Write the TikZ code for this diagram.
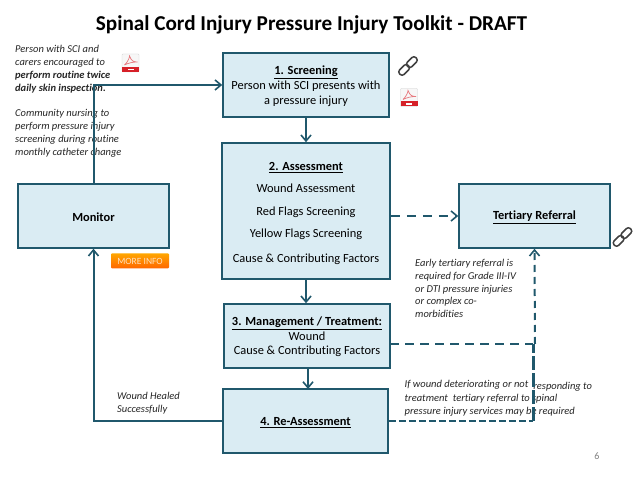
\documentclass[tikz,border=0pt]{standalone}
\usepackage{fontspec}
\setmainfont{Carlito}[Ligatures=NoCommon]
\usetikzlibrary{arrows.meta,calc}
\definecolor{boxfill}{RGB}{218,236,243}
\definecolor{teal1}{RGB}{32,88,108}
\definecolor{pdfred}{RGB}{214,32,40}
\tikzset{
  flowbox/.style={draw=teal1,fill=boxfill,line width=1.5pt,inner sep=0pt,align=center,font=\fontsize{12.4}{14.6}\selectfont},
  conn/.style={draw=teal1,line width=2pt,-{Straight Barb[length=6pt,width=10pt,line width=1.6pt]}},
  dashconn/.style={draw=teal1,line width=2pt,dash pattern=on 9pt off 6pt},
  note/.style={align=left,inner sep=0pt,anchor=north west,text=black!85,font=\fontsize{10.5}{12.8}\selectfont\itshape},
  pdficon/.pic={
    \fill[black!3,draw=black!18,line width=.4pt,rounded corners=.8pt] (-8.5,-9) rectangle (8.5,9);
    \fill[pdfred] (-8.5,4) rectangle (8.5,9);
    \draw[pdfred!60!white,line width=.7pt] (-6,2) .. controls (-1,-3) and (-1,-7) .. (-1,-7) .. controls (1,-2) and (3,-1) .. (7,-1) .. controls (2,-1) and (-2,0) .. (-6,2);
    \fill[white] (-3,5.8) rectangle (3,7.2);
  },
  linkicon/.pic={
    \begin{scope}[rotate=45,line width=1.5pt,draw=black!75]
      \draw[rounded corners=2.8pt] (-11.5,-3.2) rectangle (0.5,3.2);
      \draw[rounded corners=2.8pt] (-0.5,-3.2) rectangle (11.5,3.2);
    \end{scope}
  }
}
\begin{document}
\begin{tikzpicture}[x=1pt,y=-1pt]
\useasboundingbox (0,0) rectangle (638,478);
\fill[white] (0,0) rectangle (638,478);

\node[font=\fontsize{21.2}{24}\selectfont\bfseries,inner sep=0pt] (title) at (311.5,24.5) {Spinal Cord Injury Pressure Injury Toolkit - DRAFT};

\node[flowbox,minimum width=166pt,minimum height=64pt] (screen) at (306,85) {\rule{0pt}{11pt}\textbf{\underline{1. Screening}}\\Person with SCI presents with\\a pressure injury};
\node[flowbox,minimum width=168pt,minimum height=136pt,font=\fontsize{12.4}{22.3}\selectfont] (assess) at (306,211) {\rule{0pt}{13pt}\textbf{\underline{2. Assessment}}\\Wound Assessment\\Red Flags Screening\\Yellow Flags Screening\\[2.3pt]Cause \& Contributing Factors};
\node[flowbox,minimum width=151pt,minimum height=64pt,font=\fontsize{12.4}{14.6}\selectfont\bfseries] (monitor) at (93.5,216) {\rule{0pt}{11pt}Monitor};
\node[flowbox,minimum width=151pt,minimum height=64pt,font=\fontsize{12.4}{14.6}\selectfont\bfseries] (tertiary) at (534.5,216) {\rule{0pt}{11pt}\underline{Tertiary Referral}};
\node[flowbox,minimum width=166pt,minimum height=64pt] (manage) at (307,336) {\rule{0pt}{10.5pt}\textbf{\underline{3. Management / Treatment:}}\\Wound\\Cause \& Contributing Factors};
\node[flowbox,minimum width=165pt,minimum height=64pt,font=\fontsize{12.4}{14.6}\selectfont\bfseries] (reassess) at (305.5,421) {\rule{0pt}{12pt}\underline{4. Re-Assessment}};

\node[note] (n1) at (15,45.5) {Person with SCI and\\carers encouraged to\\\textbf{perform routine twice}\\\textbf{daily skin inspection.}\\[12.8pt]Community nursing to\\perform pressure injury\\screening during routine\\monthly catheter change};
\node[note] (n2) at (415,259) {Early tertiary referral is\\required for Grade III-IV\\or DTI pressure injuries\\or complex co-\\morbidities};
\node[note] (n3) at (117,392) {Wound Healed\\Successfully};
\node[note,font=\fontsize{10.5}{13.6}\selectfont\itshape] (n4) at (404.5,380) {If wound deteriorating or not\hspace{5pt}\raisebox{-2pt}{responding to}\\treatment\hspace{5pt}tertiary referral to spinal\\pressure injury services may be required};

\coordinate (mgmtdown) at (308,368);
\coordinate (redown) at (308,389);
\coordinate (manageR) at (390,344);
\coordinate (corner) at (533,344);
\coordinate (corner2) at (533,421);
\coordinate (tertup) at (535,344);

\draw[conn] (monitor.north) |- (screen.west);
\draw[conn] (screen.south) -- (assess.north);
\draw[conn] (assess.south) -- (assess.south |- manage.north);
\draw[conn] (mgmtdown) -- (redown);
\draw[conn] (reassess.west) -| (monitor.south);
\draw[dashconn,dash pattern=on 9pt off 7pt,-{Straight Barb[length=6pt,width=10pt,line width=1.6pt]}] (assess.east |- tertiary.west) -- (tertiary.west);
\draw[dashconn] (manageR) -- (corner);
\draw[dashconn,dash pattern=on 7pt off 5pt,-{Straight Barb[length=6pt,width=10pt,line width=1.6pt]}] (tertup) -- (tertiary.south);
\draw[dashconn,dash pattern=on 7pt off 3pt] (reassess.east) -- (corner2);
\draw[dashconn,line width=3pt,dash pattern=on 14pt off 3pt] (corner2) -- (corner);

\node[font=\fontsize{10}{12}\selectfont,text=black!50,inner sep=0pt] (pg) at (597,456) {6};

\node[inner sep=0pt,minimum width=58pt,minimum height=15pt,top color=orange!70!yellow,bottom color=orange!80!red,draw=none,rounded corners=1pt,text=white!75!orange,font=\fontsize{9.5}{11}\selectfont] (more) at (140,261) {MORE INFO};

\pic at (130.5,63) {pdficon};
\pic at (409,97.5) {pdficon};
\pic at (408,66) {linkicon};
\pic at (622.5,237) {linkicon};
\end{tikzpicture}
\end{document}
